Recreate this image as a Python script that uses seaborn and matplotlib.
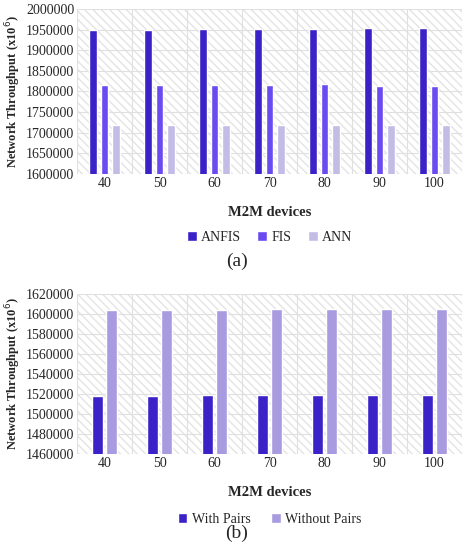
import matplotlib
matplotlib.use("Agg")
import matplotlib.pyplot as plt
import seaborn as sns
import pandas as pd
import numpy as np
from matplotlib.patches import Rectangle

devices = ["40", "50", "60", "70", "80", "90", "100"]
anfis = [1949000, 1950000, 1950500, 1951500, 1952500, 1953500, 1953000]
fis = [1815000, 1815500, 1816000, 1816500, 1817000, 1814500, 1814500]
ann = [1718000, 1718000, 1718000, 1718000, 1718000, 1718500, 1718000]
with_pairs = [1518500, 1518500, 1518700, 1518700, 1518700, 1518900, 1519000]
without_pairs = [1604500, 1604500, 1604500, 1604700, 1604700, 1604900, 1605000]

sns.set_style("white")
plt.rcParams["font.family"] = ["Liberation Serif", "DejaVu Serif"]

df_a = pd.DataFrame({"dev": devices * 3, "val": anfis + fis + ann,
                     "series": ["ANFIS"] * 7 + ["FIS"] * 7 + ["ANN"] * 7})
df_b = pd.DataFrame({"dev": devices * 2, "val": with_pairs + without_pairs,
                     "series": ["With Pairs"] * 7 + ["Without Pairs"] * 7})

fig = plt.figure(figsize=(4.74, 5.45), dpi=100)
ax1 = fig.add_axes([77/474, 1 - 174/545, 385/474, 165/545])
ax2 = fig.add_axes([77/474, 1 - 454/545, 385/474, 160/545])

def style(ax, ylim, step):
    ax.set_ylim(*ylim)
    ax.set_xlim(-0.5, 6.5)
    bg = Rectangle((0, 0), 1, 1, transform=ax.transAxes, facecolor="white",
                   edgecolor="#e4e4e4", hatch="\\\\\\\\", linewidth=0, zorder=0)
    ax.add_patch(bg)
    ticks = np.arange(ylim[0], ylim[1] + 1, step)
    ax.set_yticks(ticks)
    ax.set_yticklabels([str(int(v)) for v in ticks])
    for v in ticks:
        ax.axhline(v, color="#e0e0e0", lw=0.8, zorder=0.5)
    for x in np.arange(-0.5, 7, 1):
        ax.axvline(x, color="#e0e0e0", lw=0.8, zorder=0.5)
    for s in ax.spines.values():
        s.set_visible(False)
    ax.tick_params(axis="both", length=0, labelsize=10, pad=2)
    ax.set_ylabel("Network Throughput (x10$^6$)", fontsize=9, fontweight="bold", labelpad=2)
    ax.set_xlabel("M2M devices", fontsize=10.5, fontweight="bold", labelpad=12)

sns.barplot(data=df_a, x="dev", y="val", hue="series", ax=ax1,
            palette=["#3a22c8", "#6a4bf0", "#c3bde6"], width=0.62, gap=0.35,
            zorder=2, saturation=1)
style(ax1, (1600000, 2000000), 50000)
ax1.legend(loc="upper center", bbox_to_anchor=(0.5, -0.27), ncol=3, frameon=False,
           fontsize=10, handlelength=0.7, handleheight=0.7, handletextpad=0.3,
           columnspacing=1.2)
fig.text(0.5, 1 - 261/545, "(a)", ha="center", va="center", fontsize=14)

sns.barplot(data=df_b, x="dev", y="val", hue="series", ax=ax2,
            palette=["#3a22c8", "#a99be0"], width=0.5, gap=0.25,
            zorder=2, saturation=1)
style(ax2, (1460000, 1620000), 20000)
ax2.legend(loc="upper center", bbox_to_anchor=(0.5, -0.29), ncol=2, frameon=False,
           fontsize=10, handlelength=0.7, handleheight=0.7, handletextpad=0.3,
           columnspacing=1.5)
fig.text(0.5, 1 - 533/545, "(b)", ha="center", va="center", fontsize=14)

fig.savefig("out.png", dpi=100)
